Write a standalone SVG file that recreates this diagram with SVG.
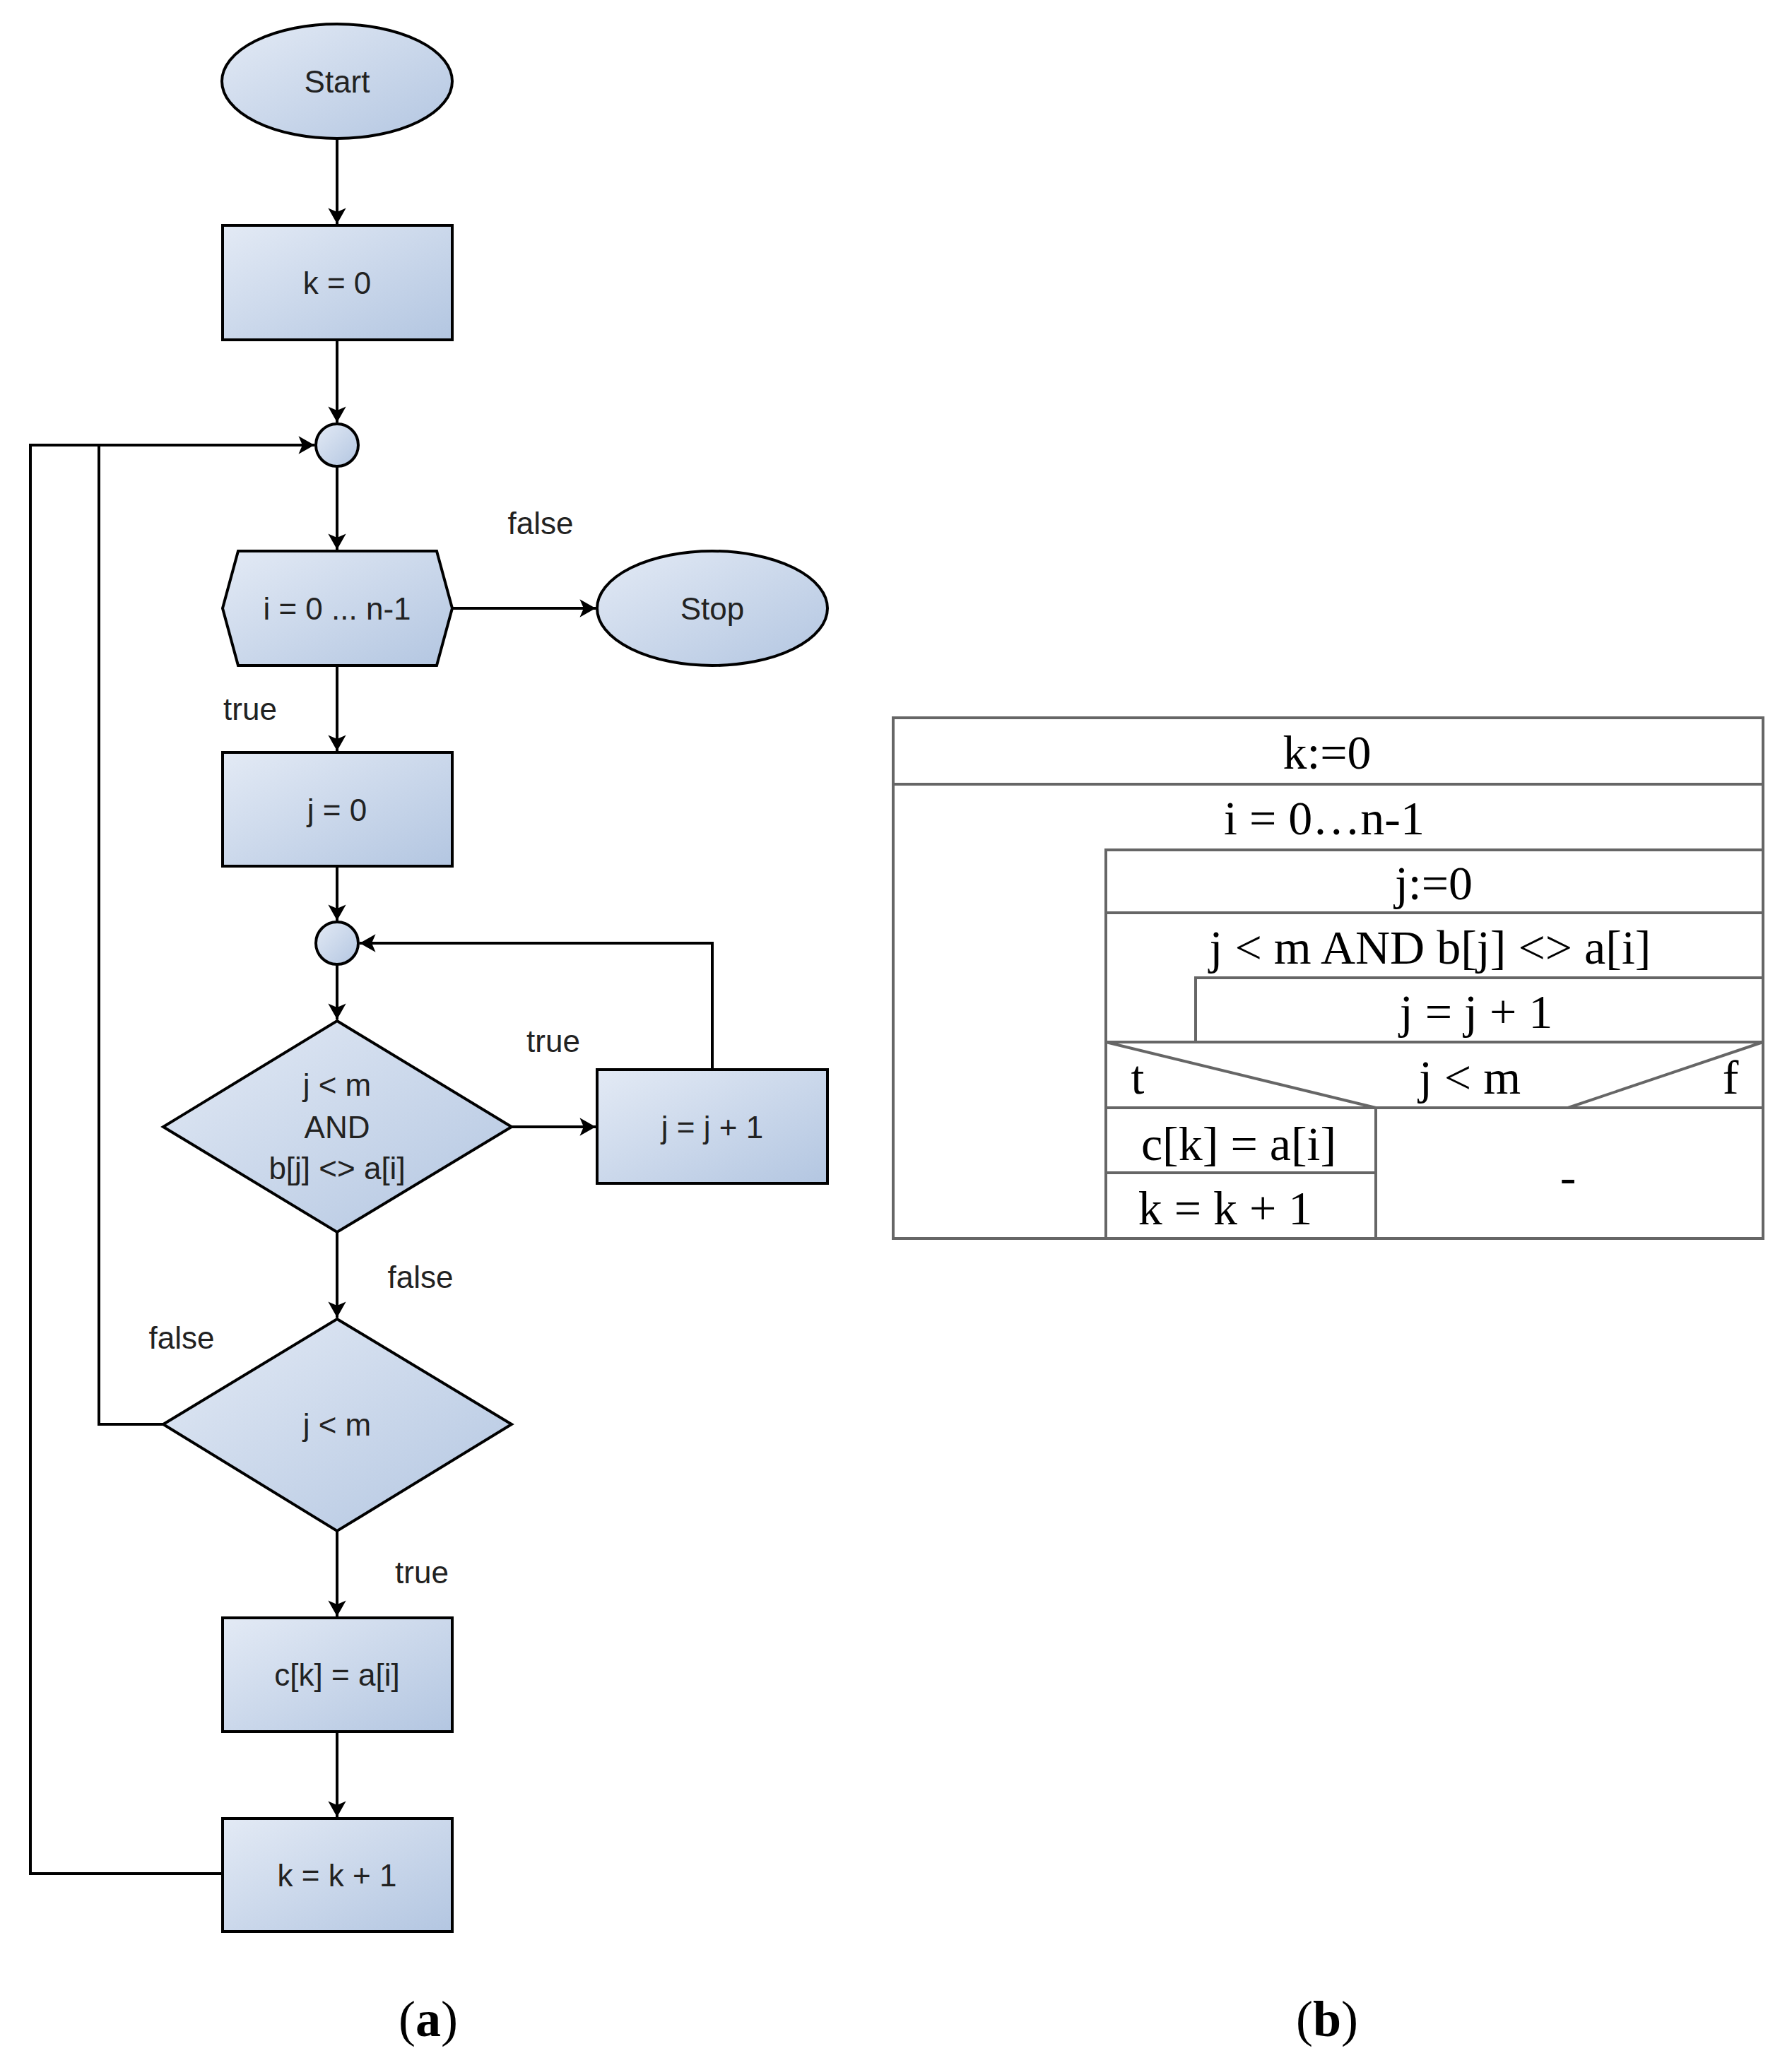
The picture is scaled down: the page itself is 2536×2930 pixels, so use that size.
<svg xmlns="http://www.w3.org/2000/svg" width="2536" height="2930" viewBox="0 0 2536 2930">
<defs>
<linearGradient id="g" x1="0" y1="0" x2="1" y2="1"><stop offset="0" stop-color="#e3eaf5"/><stop offset="1" stop-color="#b3c6e1"/></linearGradient>
<marker id="a" viewBox="0 0 20 20" refX="19" refY="10" markerWidth="11" markerHeight="11" markerUnits="userSpaceOnUse" orient="auto" overflow="visible">
<path d="M-22,-13 L19,10 L-22,33 L-12,10 Z" transform="scale(1)" fill="#000"/></marker>
<style>
.n{fill:url(#g);stroke:#000;stroke-width:4}
.t{font-family:"Liberation Sans",Arial,sans-serif;font-size:44px;text-anchor:middle;dominant-baseline:central;fill:#222}
.l{font-family:"Liberation Sans",Arial,sans-serif;font-size:44px;fill:#222;dominant-baseline:central;text-anchor:middle}
.c{fill:none;stroke:#000;stroke-width:4}
.ns{fill:none;stroke:#666;stroke-width:4}
.s{font-family:"Liberation Serif","Times New Roman",serif;font-size:68px;text-anchor:middle;fill:#000}
.cap{font-family:"Liberation Serif","Times New Roman",serif;font-size:72px;text-anchor:middle;fill:#000}
</style>
</defs>
<rect width="2536" height="2930" fill="#fff"/>
<g id="connectors">
<line class="c" x1="477" y1="196" x2="477" y2="317" marker-end="url(#a)"/>
<line class="c" x1="477" y1="481" x2="477" y2="598" marker-end="url(#a)"/>
<line class="c" x1="477" y1="660" x2="477" y2="778" marker-end="url(#a)"/>
<line class="c" x1="640" y1="861" x2="843" y2="861" marker-end="url(#a)"/>
<line class="c" x1="477" y1="942" x2="477" y2="1063" marker-end="url(#a)"/>
<line class="c" x1="477" y1="1226" x2="477" y2="1303" marker-end="url(#a)"/>
<line class="c" x1="477" y1="1365" x2="477" y2="1443" marker-end="url(#a)"/>
<line class="c" x1="724" y1="1595" x2="843" y2="1595" marker-end="url(#a)"/>
<polyline class="c" points="1008,1514 1008,1335 509,1335" marker-end="url(#a)"/>
<line class="c" x1="477" y1="1744" x2="477" y2="1865" marker-end="url(#a)"/>
<polyline class="c" points="231,2016 140,2016 140,630 445,630" marker-end="url(#a)"/>
<line class="c" x1="477" y1="2167" x2="477" y2="2288" marker-end="url(#a)"/>
<line class="c" x1="477" y1="2451" x2="477" y2="2572" marker-end="url(#a)"/>
<polyline class="c" points="315,2652 43,2652 43,630 140,630"/>
<text class="l" x="765" y="740">false</text>
<text class="l" x="354" y="1003">true</text>
<text class="l" x="783" y="1473">true</text>
<text class="l" x="595" y="1807">false</text>
<text class="l" x="257" y="1893">false</text>
<text class="l" x="597" y="2225">true</text>
</g>
<g id="start"><ellipse class="n" cx="477" cy="115" rx="163" ry="81"/><text class="t" x="477" y="115">Start</text></g>
<g id="k0"><rect class="n" x="315" y="319" width="325" height="162"/><text class="t" x="477" y="400">k = 0</text></g>
<g id="m1"><circle class="n" cx="477" cy="630" r="30"/></g>
<g id="loopi"><polygon class="n" points="337,780 618,780 640,861 618,942 337,942 315,861"/><text class="t" x="477" y="861">i = 0 ... n-1</text></g>
<g id="stop"><ellipse class="n" cx="1008" cy="861" rx="163" ry="81"/><text class="t" x="1008" y="861">Stop</text></g>
<g id="j0"><rect class="n" x="315" y="1065" width="325" height="161"/><text class="t" x="477" y="1146">j = 0</text></g>
<g id="m2"><circle class="n" cx="477" cy="1335" r="30"/></g>
<g id="d1"><polygon class="n" points="477,1445 724,1595 477,1744 231,1595"/><text class="t" x="477" y="1535">j &lt; m</text><text class="t" x="477" y="1595">AND</text><text class="t" x="477" y="1653">b[j] &lt;&gt; a[i]</text></g>
<g id="jinc"><rect class="n" x="845" y="1514" width="326" height="161"/><text class="t" x="1008" y="1595">j = j + 1</text></g>
<g id="d2"><polygon class="n" points="477,1867 724,2016 477,2167 231,2016"/><text class="t" x="477" y="2016">j &lt; m</text></g>
<g id="ck"><rect class="n" x="315" y="2290" width="325" height="161"/><text class="t" x="477" y="2370">c[k] = a[i]</text></g>
<g id="kinc"><rect class="n" x="315" y="2574" width="325" height="160"/><text class="t" x="477" y="2654">k = k + 1</text></g>
<g id="ns">
<rect class="ns" x="1264" y="1016" width="1231" height="737"/>
<line class="ns" x1="1264" y1="1110" x2="2495" y2="1110"/>
<polyline class="ns" points="1565,1753 1565,1203 2495,1203"/>
<line class="ns" x1="1565" y1="1292" x2="2495" y2="1292"/>
<polyline class="ns" points="1692,1475 1692,1384 2495,1384"/>
<line class="ns" x1="1565" y1="1475" x2="2495" y2="1475"/>
<line class="ns" x1="1565" y1="1568" x2="2495" y2="1568"/>
<line class="ns" x1="1565" y1="1475" x2="1947" y2="1568"/>
<line class="ns" x1="2495" y1="1475" x2="2219" y2="1568"/>
<line class="ns" x1="1947" y1="1568" x2="1947" y2="1753"/>
<line class="ns" x1="1565" y1="1660" x2="1947" y2="1660"/>
<text class="s" x="1878" y="1088">k:=0</text>
<text class="s" x="1874" y="1181">i = 0…n-1</text>
<text class="s" x="2029" y="1273">j:=0</text>
<text class="s" x="2024" y="1364">j &lt; m AND b[j] &lt;&gt; a[i]</text>
<text class="s" x="2089" y="1455">j = j + 1</text>
<text class="s" x="1610" y="1548">t</text>
<text class="s" x="2080" y="1548">j &lt; m</text>
<text class="s" x="2449" y="1548">f</text>
<text class="s" x="1753" y="1642">c[k] = a[i]</text>
<text class="s" x="1734" y="1733">k = k + 1</text>
<text class="s" x="2219" y="1688">-</text>
</g>
<text class="cap" x="606" y="2882">(<tspan font-weight="bold">a</tspan>)</text>
<text class="cap" x="1878" y="2882">(<tspan font-weight="bold">b</tspan>)</text>
</svg>
